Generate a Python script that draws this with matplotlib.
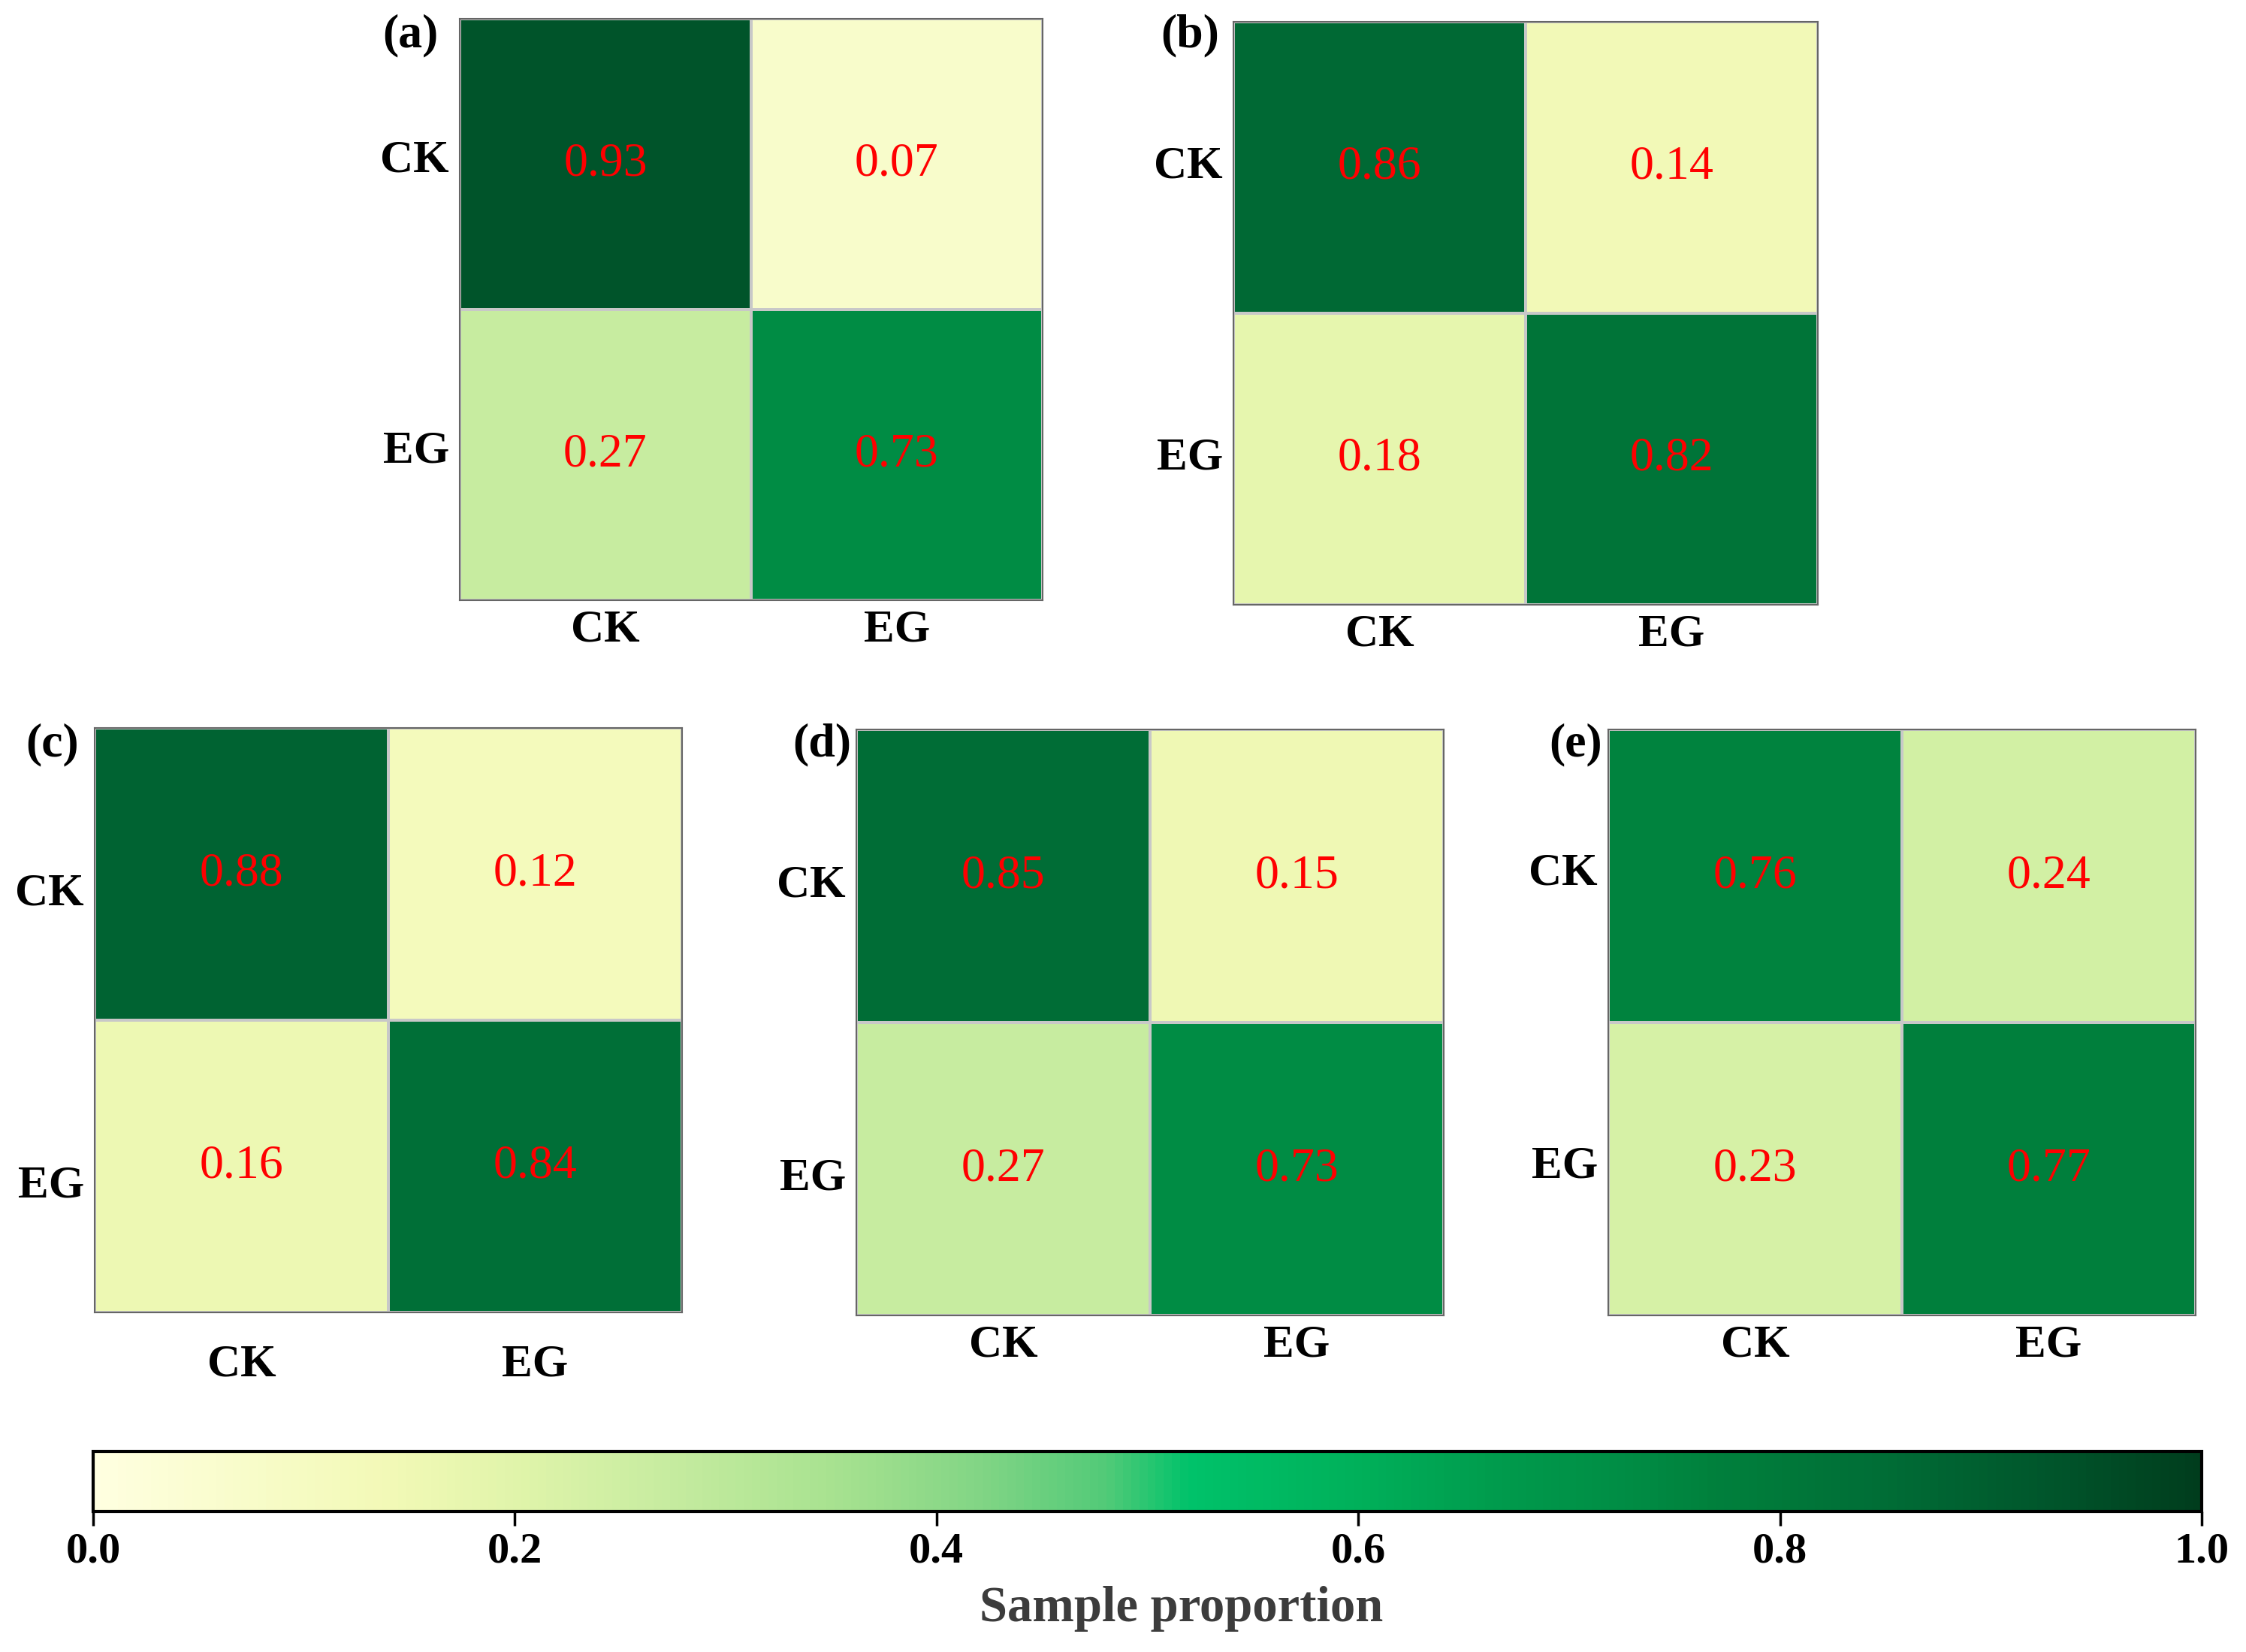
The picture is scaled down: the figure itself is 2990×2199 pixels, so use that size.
import numpy as np
import matplotlib
matplotlib.use("Agg")
import matplotlib.pyplot as plt
from matplotlib.colors import LinearSegmentedColormap, Normalize
from matplotlib.cm import ScalarMappable

plt.rcParams["font.family"] = ["Liberation Serif", "DejaVu Serif"]

# data
classes = ["CK", "EG"]
panel_tags = ["(a)", "(b)", "(c)", "(d)", "(e)"]
mat_a = [[0.93, 0.07], [0.27, 0.73]]
mat_b = [[0.86, 0.14], [0.18, 0.82]]
mat_c = [[0.88, 0.12], [0.16, 0.84]]
mat_d = [[0.85, 0.15], [0.27, 0.73]]
mat_e = [[0.76, 0.24], [0.23, 0.77]]
matrices = [mat_a, mat_b, mat_c, mat_d, mat_e]
cbar_ticks = [0.0, 0.2, 0.4, 0.6, 0.8, 1.0]

cmap = LinearSegmentedColormap.from_list("greens", [
    (0.00, "#ffffe0"), (0.07, "#f8fcca"), (0.14, "#f2f9b6"),
    (0.20, "#e0f4aa"), (0.27, "#c7eca0"), (0.35, "#a8e290"),
    (0.42, "#82d585"), (0.48, "#52ca78"), (0.52, "#00c26a"),
    (0.60, "#00b05a"), (0.67, "#009a4c"), (0.73, "#008c44"),
    (0.77, "#00803c"), (0.85, "#006d36"), (0.93, "#00552b"),
    (1.00, "#003d1d"),
])
norm = Normalize(0, 1)

W, H = 2990, 2199
fig = plt.figure(figsize=(W / 100, H / 100), dpi=100)


def px_rect(x0, y0, x1, y1):
    return [x0 / W, 1 - y1 / H, (x1 - x0) / W, (y1 - y0) / H]


# axes boxes in pixels: x0, y0, x1, y1
boxes = [
    (612, 25, 1388, 799),
    (1642, 29, 2420, 805),
    (126, 969, 908, 1747),
    (1140, 971, 1922, 1751),
    (2141, 971, 2923, 1751),
]
tag_pos = [(546, 18), (1584, 18), (70, 962), (1094, 962), (2098, 962)]
xpads = [8, 8, 30, 8, 8]
yshift = [-0.03, -0.02, 0.05, 0.015, -0.025]  # label nudge, in cell units

for m, box, tag, tpos, xp, ys in zip(matrices, boxes, panel_tags, tag_pos,
                                     xpads, yshift):
    ax = fig.add_axes(px_rect(*box))
    arr = np.array(m)
    ax.pcolormesh(arr, cmap=cmap, norm=norm, edgecolors="#c8c8c8", linewidth=1.5)
    ax.set_xlim(0, 2)
    ax.set_ylim(2, 0)
    for i in range(2):
        for j in range(2):
            ax.text(j + 0.5, i + 0.5, f"{arr[i, j]:.2f}", color="#ff0000",
                    ha="center", va="center", fontsize=46)
    ax.set_xticks([0.5, 1.5])
    ax.set_yticks([0.5 + ys, 1.5 + ys])
    ax.set_xticklabels(classes, fontsize=44, fontweight="bold")
    ax.set_yticklabels(classes, fontsize=44, fontweight="bold")
    ax.tick_params(length=0, pad=xp, axis="x")
    ax.tick_params(length=0, pad=10, axis="y")
    for s in ax.spines.values():
        s.set_color("#666666")
        s.set_linewidth(1.5)
    fig.text(tpos[0] / W, 1 - tpos[1] / H, tag, ha="center", va="top",
             fontsize=46, fontweight="bold")

cax = fig.add_axes(px_rect(124, 1932, 2931, 2012))
cb = fig.colorbar(ScalarMappable(norm=norm, cmap=cmap), cax=cax,
                  orientation="horizontal", ticks=cbar_ticks)
cb.outline.set_linewidth(3)
cb.ax.tick_params(length=14, width=2.5, labelsize=42, pad=6)
cb.ax.set_xticklabels([f"{t:.1f}" for t in cbar_ticks])
for lbl in cb.ax.get_xticklabels():
    lbl.set_fontweight("bold")

# colour bar title sits a little right of the bar centre in the original
fig.text(1573 / W, 1 - 2142 / H, "Sample proportion", ha="center",
         va="center", fontsize=48, fontweight="bold", color="#3c3c3c")

fig.savefig("out.png", dpi=100)
